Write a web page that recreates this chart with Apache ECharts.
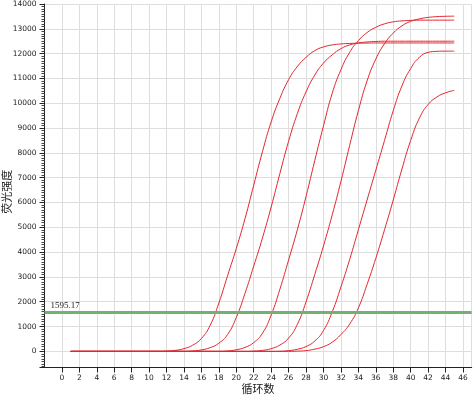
<!DOCTYPE html>
<html>
<head>
<meta charset="utf-8">
<script src="https://cdn.jsdelivr.net/npm/echarts@6/dist/echarts.min.js"></script>
<style>
html,body{margin:0;padding:0;background:#fff;}
#c{width:474px;height:396px;}
</style>
</head>
<body>
<div id="c"></div>
<script>
const cycles = [1,2,3,4,5,6,7,8,9,10,11,12,13,14,15,16,17,18,19,20,21,22,23,24,25,26,27,28,29,30,31,32,33,34,35,36,37,38,39,40,41,42,43,44,45];

const curveA = [0,0,0,0,0,0,0,0,0,0,0,10,40,110,250,520,1050,1950,3050,4150,5350,6700,8050,9250,10200,10950,11480,11850,12120,12270,12350,12390,12410,12420,12425,12430,12430,12430,12430,12430,12430,12430,12430,12430,12430];
const curveB = [0,0,0,0,0,0,0,0,0,0,0,0,0,0,15,60,150,330,680,1370,2340,3440,4570,5820,7170,8470,9580,10460,11135,11620,11950,12200,12350,12430,12470,12490,12500,12500,12500,12500,12500,12500,12500,12500,12500];
const curveC = [0,0,0,0,0,0,0,0,0,0,0,0,0,0,0,0,0,0,16,65,160,355,730,1465,2505,3685,4900,6245,7690,9090,10400,11350,12050,12520,12850,13060,13200,13280,13320,13340,13350,13350,13350,13350,13350];
const curveD = [0,0,0,0,0,0,0,0,0,0,0,0,0,0,0,0,0,0,0,0,0,10,40,110,255,535,1085,2000,3100,4250,5500,6850,8300,9700,10900,11780,12400,12830,13120,13300,13400,13460,13490,13505,13510];
const curveE = [0,0,0,0,0,0,0,0,0,0,0,0,0,0,0,0,0,0,0,0,0,0,0,0,5,30,85,195,415,840,1590,2600,3700,4900,6100,7300,8500,9700,10700,11400,11850,12050,12090,12100,12100];
const curveF = [0,0,0,0,0,0,0,0,0,0,0,0,0,0,0,0,0,0,0,0,0,0,0,0,0,0,10,30,90,190,370,680,1100,1750,2700,3750,4900,6100,7350,8500,9400,9950,10250,10420,10520];

const threshold = 1595.17;
const thresholdLabel = '1595.17';
const xName = '循环数';
const yName = '荧光强度';

const curves = [curveA, curveB, curveC, curveD, curveE, curveF];
const red = '#e3262e';

const series = curves.map(function (vals) {
  return {
    type: 'line',
    data: cycles.map(function (c, i) { return [c, vals[i]]; }),
    symbol: 'none',
    smooth: 0.5,
    lineStyle: { color: red, width: 1 },
    silent: true,
    z: 3
  };
});
series.push({
  type: 'line',
  data: [],
  markLine: {
    silent: true,
    symbol: ['none', 'none'],
    lineStyle: { color: '#74b074', width: 3, type: 'solid' },
    label: {
      show: true,
      position: 'insideStartTop',
      formatter: thresholdLabel,
      color: '#222',
      fontSize: 9,
      fontFamily: 'Liberation Serif',
      distance: [6, 2]
    },
    data: [{ yAxis: threshold }]
  },
  z: 2
});

const chart = echarts.init(document.getElementById('c'), null, { renderer: 'canvas' });
chart.setOption({
  animation: false,
  backgroundColor: '#fff',
  grid: { left: 44.5, top: 4, width: 427.2, bottom: 28.5, containLabel: false, outerBoundsMode: 'none' },
  xAxis: {
    type: 'value',
    min: -2,
    max: 47,
    interval: 2,
    name: xName,
    nameLocation: 'middle',
    nameGap: 16,
    nameMoveOverlap: false,
    nameTextStyle: { fontSize: 11, color: '#222', fontFamily: 'Noto Sans CJK SC' },
    axisLine: { onZero: false, lineStyle: { color: '#222', width: 1 } },
    axisTick: { show: true, length: 5, lineStyle: { color: '#222' } },
    axisLabel: { showMinLabel: false, fontSize: 7.5, color: '#222', fontFamily: 'DejaVu Sans', margin: 7 },
    splitLine: { show: true, lineStyle: { color: '#dedede', width: 1 } }
  },
  yAxis: {
    type: 'value',
    min: -650,
    max: 14000,
    splitNumber: 14,
    name: yName,
    nameLocation: 'middle',
    nameRotate: 90,
    nameGap: 32,
    nameMoveOverlap: false,
    nameTextStyle: { fontSize: 11, color: '#222', fontFamily: 'Noto Sans CJK SC', padding: [0, 12, 0, 0] },
    axisLine: { show: true, onZero: false, lineStyle: { color: '#222', width: 1 } },
    axisTick: { show: true, length: 5, lineStyle: { color: '#222' } },
    minorTick: { show: true, splitNumber: 10, length: 3, lineStyle: { color: '#444' } },
    axisLabel: {
      showMinLabel: false, fontSize: 7.5, color: '#222', fontFamily: 'DejaVu Sans', margin: 8,
      formatter: function (v) { return String(v); }
    },
    splitLine: { show: true, lineStyle: { color: '#dedede', width: 1 } }
  },
  series: series
});
</script>
</body>
</html>
